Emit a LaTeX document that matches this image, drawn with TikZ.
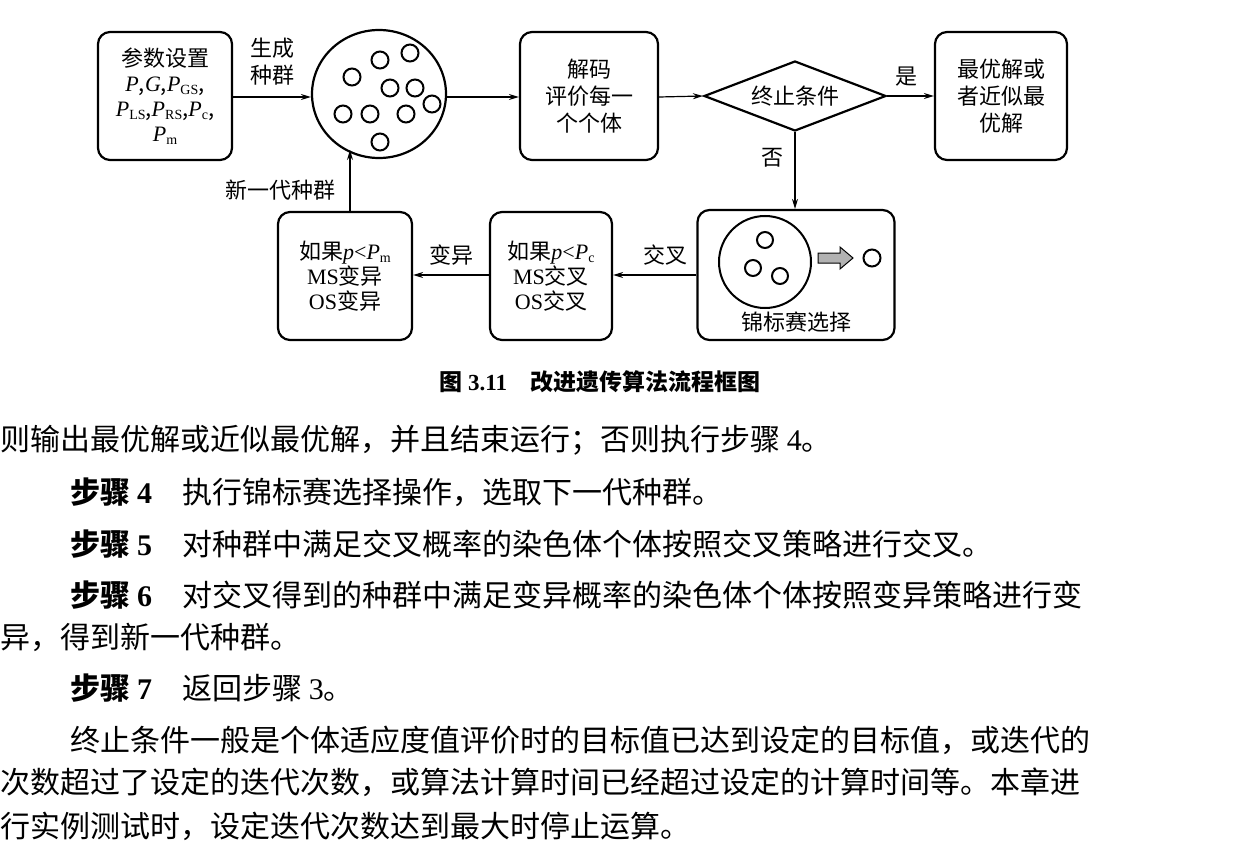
\documentclass[tikz,border=0pt]{standalone}
\usepackage{fontspec}
\setmainfont{Noto Sans CJK SC}
\newfontfamily\latf{Liberation Serif}
\newcommand{\PP}[1]{{\latf\itshape P}\raisebox{-3pt}{\latf\fontsize{14}{14}\selectfont #1}}
\newcommand{\LI}[1]{{\latf\itshape #1}}
\usetikzlibrary{arrows.meta,shapes.geometric}
\begin{document}
\begin{tikzpicture}[x=1pt,y=-1pt,
  box/.style={draw,line width=2.2pt,rounded corners=12pt,align=center,font=\fontsize{22}{27}\selectfont},
  conn/.style={line width=1.2pt,-{Stealth[length=10pt,width=6pt]}},
  lbl/.style={font=\fontsize{22}{27}\selectfont},
  dot/.style={draw,line width=2pt,circle,minimum size=17pt,inner sep=0pt},
  body/.style={anchor=west,inner sep=0pt,font=\fontsize{30}{34}\selectfont}]
\useasboundingbox (0,0) rectangle (1234,856);
% top row
\node[box,minimum width=134pt,minimum height=128pt] (par) at (165,96) {参数设置\\[-2pt]\LI{P},\LI{G},\PP{GS},\\[-2pt]\PP{LS},\PP{RS},\PP{c},\\[-2pt]\PP{m}};
\node[draw,line width=2.2pt,ellipse,minimum width=134pt,minimum height=128pt] (pop) at (379,94) {};
\foreach \i/\p in {1/{352,77},2/{380,60},3/{410,53},4/{390,88},5/{415,88},6/{432,104},7/{343,114},8/{370,114},9/{406,114},10/{380,142}}
  \node[dot] (c\i) at (\p) {};
\node[box,minimum width=138pt,minimum height=128pt] (dec) at (589,96) {解码\\评价每一\\个个体};
\node[draw,line width=2.2pt,diamond,aspect=2.6,minimum width=182pt,minimum height=70pt,inner sep=0pt,font=\fontsize{22}{27}\selectfont] (cond) at (795,96) {终止条件};
\node[box,minimum width=132pt,minimum height=128pt] (opt) at (1001,96) {最优解或\\者近似最\\优解};
% bottom row
\node[box,minimum width=197pt,minimum height=130pt] (tour) at (796,275) {};
\node[draw,line width=2pt,circle,minimum size=92pt] (tc) at (765,262) {};
\node[dot,minimum size=16pt] (t1) at (765,240) {};
\node[dot,minimum size=16pt] (t2) at (753,268) {};
\node[dot,minimum size=16pt] (t3) at (780,276) {};
\node[dot] (t4) at (872,258) {};
\draw[fill=gray!60,line width=1pt] (818,253) -- (840,253) -- (840,247) -- (853,258) -- (840,269) -- (840,263) -- (818,263) -- cycle;
\node[lbl] (tl) at (796,322) {锦标赛选择};
\node[box,minimum width=122pt,minimum height=128pt] (cro) at (551,276) {如果\LI{p}{\latf<}\PP{c}\\[-2pt]{\latf MS}交叉\\[-2pt]{\latf OS}交叉};
\node[box,minimum width=134pt,minimum height=128pt] (mut) at (345,276) {如果\LI{p}{\latf<}\PP{m}\\[-2pt]{\latf MS}变异\\[-2pt]{\latf OS}变异};
% connectors
\draw[conn] (par.east|-0,97) -- (pop.west|-0,97);
\node[lbl,align=center] at (272,62) {生成\\种群};
\draw[conn] (pop.east|-0,97) -- (dec.west|-0,97);
\draw[conn] (dec.east|-0,97) -- (cond.west);
\draw[conn] (cond.east) -- (opt.west|-0,96);
\node[lbl] at (906,77) {是};
\draw[conn] (cond.south) -- (tour.north-|cond.south);
\node[lbl] at (772,158) {否};
\draw[conn] (tour.west|-0,275) -- (cro.east|-0,275);
\node[lbl] at (665,255) {交叉};
\draw[conn] (cro.west|-0,275) -- (mut.east|-0,275);
\node[lbl] at (451,255) {变异};
\coordinate (popb) at (350,150);
\draw[conn] (mut.north-|350,0) -- (popb);
\node[lbl] at (280,190) {新一代种群};
% caption
\node[font=\fontsize{23}{27}\selectfont\bfseries] (cap) at (600,382) {图 {\latf\bfseries 3.11}\quad 改进遗传算法流程框图};
% body text
\node[body] (l1) at (0,440) {则输出最优解或近似最优解，并且结束运行；否则执行步骤 {\latf 4}。};
\node[body] (l2) at (70,492) {\textbf{步骤 {\latf\bfseries 4}}\quad 执行锦标赛选择操作，选取下一代种群。};
\node[body] (l3) at (70,544) {\textbf{步骤 {\latf\bfseries 5}}\quad 对种群中满足交叉概率的染色体个体按照交叉策略进行交叉。};
\node[body] (l4) at (70,595) {\textbf{步骤 {\latf\bfseries 6}}\quad 对交叉得到的种群中满足变异概率的染色体个体按照变异策略进行变};
\node[body] (l5) at (0,637) {异，得到新一代种群。};
\node[body] (l6) at (70,688) {\textbf{步骤 {\latf\bfseries 7}}\quad 返回步骤 {\latf 3}。};
\node[body] (l7) at (70,740) {终止条件一般是个体适应度值评价时的目标值已达到设定的目标值，或迭代的};
\node[body] (l8) at (0,782) {次数超过了设定的迭代次数，或算法计算时间已经超过设定的计算时间等。本章进};
\node[body] (l9) at (0,826) {行实例测试时，设定迭代次数达到最大时停止运算。};
\end{tikzpicture}
\end{document}
